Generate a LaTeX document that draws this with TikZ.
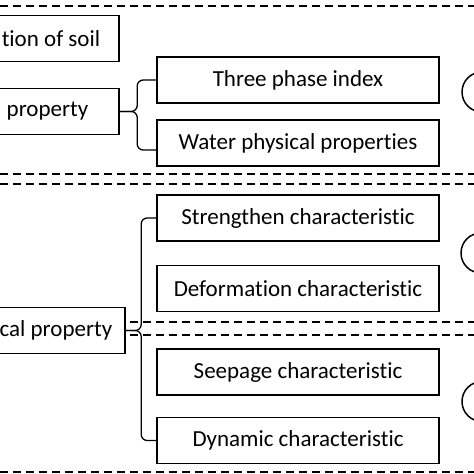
\documentclass[tikz,border=0pt]{standalone}
\usepackage{fontspec}
\setmainfont[Ligatures=NoCommon]{Carlito}
\usetikzlibrary{positioning, calc}

\begin{document}
\begin{tikzpicture}[
    x=1pt, y=-1pt,
    box/.style={
      draw, fill=white, line width=1.6pt, minimum width=282pt, minimum height=46pt,
      align=center, font=\fontsize{23}{27}\selectfont
    },
    leftbox/.style={box, minimum width=0pt, inner xsep=20pt, anchor=east},
    sep/.style={line width=1.4pt, dash pattern=on 8pt off 5pt},
    brace/.style={line width=1.3pt, rounded corners=6pt},
    tagcircle/.style={draw, circle, line width=1.5pt, minimum size=40pt}
]
\useasboundingbox (0,0) rectangle (474,474);
\clip (0,0) rectangle (474,474);

% Separators
\draw[sep] (0,6) -- (474,6);
\draw[sep] (0,174) -- (474,174);
\draw[sep] (0,184) -- (474,184);
\draw[sep] (0,322) -- (474,322);
\draw[sep] (0,335) -- (474,335);
\draw[sep] (0,472) -- (474,472);

% Left column
\node[leftbox, inner xsep=19pt] (comp) at (120,38.5) {\makebox[200pt][r]{tion of soil}};
\node[leftbox, inner xsep=31pt] (phys) at (120,111.5) {\makebox[200pt][r]{property}};
\node[leftbox, inner xsep=13pt] (mech) at (126,330.5) {\makebox[200pt][r]{cal property}};

% Physical property
\node[box] (three) at (298,80) {Three phase index};
\node[box] (water) at (298,143) {Water physical properties};

% Mechanical property
\node[box] (stren) at (298,218) {Strengthen characteristic};
\node[box] (defo) at (298,288.5) {Deformation characteristic};
\node[box] (seep) at (298,372) {Seepage characteristic};
\node[box] (dyna) at (298,440.5) {Dynamic characteristic};

% Tags
\node[tagcircle] (t1) at (482,92) {};
\node[tagcircle] (t2) at (481,253) {};
\node[tagcircle] (t3) at (482,401.5) {};

% Braces
\draw[brace] (three.west) -- ++(-19,0) |- (phys.east);
\draw[brace] ($(water.west)+(0,7)$) -- ++(-19,0) |- (phys.east);
\draw[brace] (stren.west) -- ++(-15,0) |- (mech.east);
\draw[brace] (dyna.west) -- ++(-15,0) |- (mech.east);

\end{tikzpicture}
\end{document}
